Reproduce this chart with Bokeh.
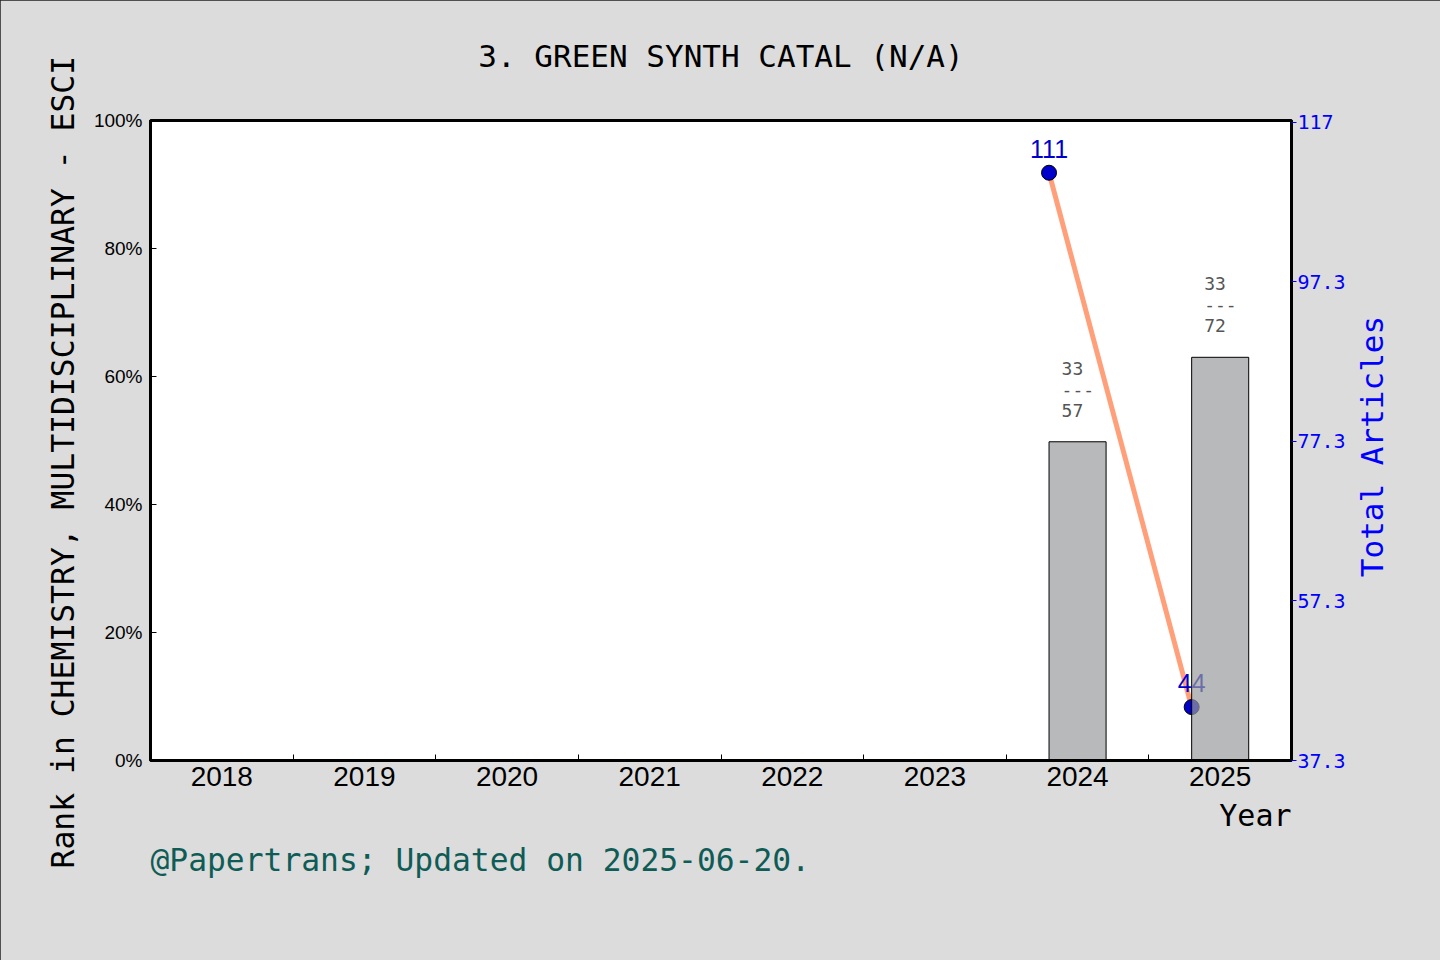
import math
from bokeh.plotting import figure
from bokeh.models import (Range1d, LinearAxis, FixedTicker, PrintfTickFormatter,
                          ColumnDataSource, Title, Label)
from bokeh.core.properties import value
from bokeh.embed import file_html
from bokeh.resources import INLINE

# ---- data ----
years = [2018, 2019, 2020, 2021, 2022, 2023, 2024, 2025]
bar_years = [2024, 2025]
rank_pct = [49.8, 63.0]
rank_pos = [33, 33]
cat_total = [57, 72]
articles = [111, 44]
title_text = "3. GREEN SYNTH CATAL (N/A)"
left_label = "Rank in CHEMISTRY, MULTIDISCIPLINARY - ESCI"
right_label = "Total Articles"
footer_text = "@Papertrans; Updated on 2025-06-20."
pct_ticks = [0, 20, 40, 60, 80, 100]
art_ticks = [37.3, 57.3, 77.3, 97.3, 117.3]
art_tick_labels = ["37.3", "57.3", "77.3", "97.3", "117"]

MONO = "DejaVu Sans Mono"
SANS = "Liberation Sans"
BG = "#dcdcdc"

p = figure(width=1440, height=960, output_backend="svg", toolbar_location=None,
           x_range=Range1d(years[0] - 0.5, years[-1] + 0.5), y_range=Range1d(0, 100),
           min_border_left=150, min_border_right=149, min_border_top=120,
           min_border_bottom=200, background_fill_color="white",
           border_fill_color=BG, outline_line_color="black", outline_line_width=3)
p.styles = {"outline": "1px solid #222", "outline-offset": "-1px"}
p.grid.visible = False
p.extra_y_ranges = {"art": Range1d(37.3, 117.55)}

# spacer + title
p.add_layout(Title(text=" ", text_font_size="1px", standoff=44), "above")
p.add_layout(Title(text=title_text, align="center", text_font=MONO,
                   text_font_size="31px", text_font_style="normal",
                   text_color="black", standoff=0), "above")

# x axis
xa = p.xaxis[0]
xa.ticker = FixedTicker(ticks=years, minor_ticks=[y + 0.5 for y in years[:-1]])
xa.major_tick_in = 0
xa.major_tick_out = 0
xa.minor_tick_in = 6
xa.minor_tick_out = 0
xa.minor_tick_line_color = "black"
xa.axis_line_width = 3
xa.major_label_text_font = SANS
xa.major_label_text_font_size = "28px"
xa.major_label_text_color = "black"
xa.major_label_standoff = 6

# left axis
ya = p.yaxis[0]
ya.ticker = FixedTicker(ticks=pct_ticks, minor_ticks=[])
ya.formatter = PrintfTickFormatter(format="%d%%")
ya.major_tick_in = 6
ya.major_tick_out = 0
ya.minor_tick_line_color = None
ya.axis_line_width = 3
ya.major_label_text_font = SANS
ya.major_label_text_font_size = "19px"
ya.major_label_text_color = "black"
ya.major_label_standoff = 8

# left axis title (reads bottom-up), placed slightly below the frame centre
p.add_layout(Title(text=left_label, align="left", offset=-108, text_font=MONO,
                   text_font_size="31.4px", text_font_style="normal",
                   text_color="black", standoff=20), "left")

# right axis
ra = LinearAxis(y_range_name="art",
                ticker=FixedTicker(ticks=art_ticks, minor_ticks=[]),
                major_label_overrides=dict(zip(art_ticks, art_tick_labels)))
ra.major_tick_in = 0
ra.major_tick_out = 5
ra.major_tick_line_color = "blue"
ra.minor_tick_line_color = None
ra.axis_line_width = 3
ra.major_label_text_font = MONO
ra.major_label_text_font_size = "20px"
ra.major_label_text_color = "blue"
ra.major_label_standoff = 1
p.add_layout(ra, "right")

# right axis title, reading bottom-up, in the right side panel
p.add_layout(Label(x=23, y=314, x_units="screen", y_units="screen", text=right_label,
                   angle=math.pi / 2, text_align="center", text_baseline="middle",
                   text_font=MONO, text_font_size="31px", text_color="blue"), "right")

# Year label and footer
p.add_layout(Title(text="Year", align="right", text_font=MONO, text_font_size="30px",
                   text_font_style="normal", text_color="black", standoff=14), "below")
p.add_layout(Title(text=footer_text, align="left", text_font=MONO, text_font_size="31.3px",
                   text_font_style="normal", text_color="#0f5c57", standoff=0), "below")

# line + points
line_src = ColumnDataSource(dict(x=[y - 0.2 for y in bar_years], y=articles,
                                 lab=[str(a) for a in articles]))
p.line("x", "y", source=line_src, y_range_name="art", line_color="#FFA07A", line_width=5)
p.scatter("x", "y", source=line_src, y_range_name="art", size=15,
          fill_color="#0000CD", line_color="black", line_width=1)
p.text("x", "y", text="lab", source=line_src, y_range_name="art",
       text_font=value(SANS), text_font_size="25px", text_color="#0000CD",
       text_align="center", text_baseline="bottom", y_offset=-15)

# bars
bar_src = ColumnDataSource(dict(x=bar_years, top=rank_pct,
                                lab=[f"{r}\n---\n{t}" for r, t in zip(rank_pos, cat_total)]))
p.vbar(x="x", top="top", width=0.4, bottom=0, source=bar_src,
       fill_color="#9a9b9c", fill_alpha=0.7, line_color="black", line_width=1)
p.text("x", "top", text="lab", source=bar_src, text_font=value(MONO),
       text_font_size="18px", text_color="#555555", text_align="left",
       text_baseline="bottom", x_offset=-16, y_offset=-21, text_line_height=1.0)

open("out.html", "w").write(file_html(p, INLINE))
